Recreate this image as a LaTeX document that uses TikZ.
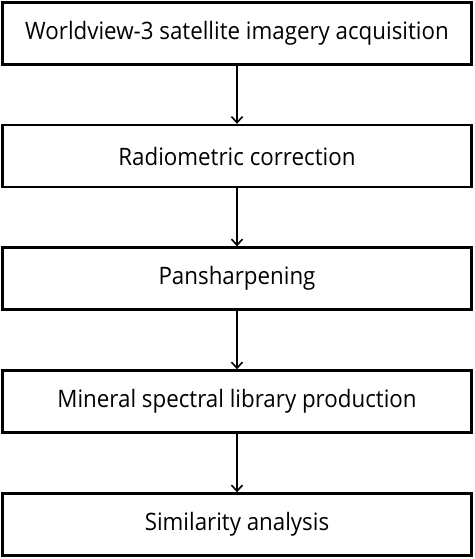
\documentclass[tikz,border=0pt]{standalone}
\usepackage{fontspec}
\setmainfont[FakeStretch=0.93]{Open Sans}
\usetikzlibrary{arrows.meta}
\tikzset{stepbox/.style={draw, line width=2.4pt, minimum width=469pt, minimum height=62pt, inner sep=0pt, font=\fontsize{24}{28}\selectfont}}
\begin{document}
\begin{tikzpicture}[x=1pt,y=1pt]
\useasboundingbox (0,0) rectangle (474,-559);
\node[stepbox] (acq) at (237,-33.5) {Worldview-3 satellite imagery acquisition};
\node[stepbox] (rad) at (237,-156) {Radiometric correction};
\node[stepbox] (pan) at (237,-278.5) {Pansharpening};
\node[stepbox] (lib) at (237,-401.5) {Mineral spectral library production};
\node[stepbox] (sim) at (237,-524.5) {Similarity analysis};
\path[draw,line width=1.6pt,-{Straight Barb[length=6pt,width=11pt]}] (acq) -- (rad);
\path[draw,line width=1.6pt,-{Straight Barb[length=6pt,width=11pt]}] (rad) -- (pan);
\path[draw,line width=1.6pt,-{Straight Barb[length=6pt,width=11pt]}] (pan) -- (lib);
\path[draw,line width=1.6pt,-{Straight Barb[length=6pt,width=11pt]}] (lib) -- (sim);
\end{tikzpicture}
\end{document}
